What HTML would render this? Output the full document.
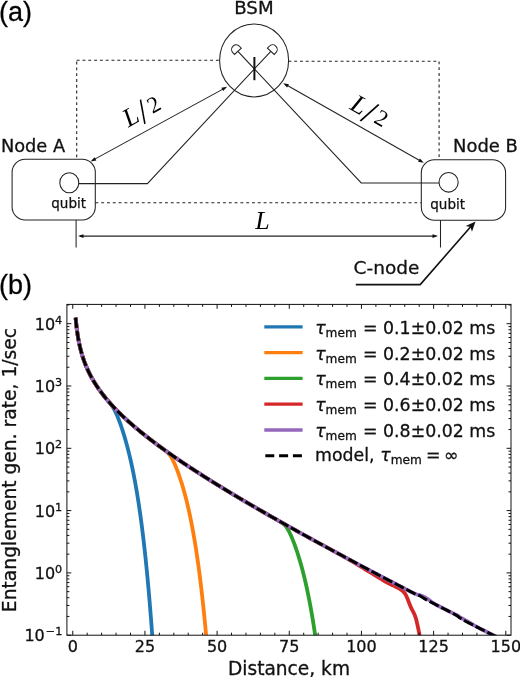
<!DOCTYPE html>
<html><head><meta charset="utf-8"><style>
html,body{margin:0;padding:0;background:#fff;width:520px;height:677px;overflow:hidden}
svg{display:block}
</style></head><body>
<svg width="520" height="677" viewBox="0 0 520 677">
<rect width="520" height="677" fill="#fff"/>
<text x="-1.0" y="21.3" font-family="Liberation Sans, sans-serif" font-size="27" stroke="#111" stroke-width="0.3">(a)</text>
<text x="-1.0" y="293.9" font-family="Liberation Sans, sans-serif" font-size="27" stroke="#111" stroke-width="0.3">(b)</text>
<g font-family="DejaVu Sans, sans-serif" font-size="17.6" fill="#111" stroke="#111" stroke-width="0.3"><text x="253.9" y="13.7" text-anchor="middle" font-size="18.2">BSM</text><text x="0.9" y="152.0" font-size="17.8">Node A</text><text x="453.0" y="151.5" font-size="17.95">Node B</text></g>
<g font-family="DejaVu Sans, sans-serif" font-size="13.5" fill="#111" stroke="#111" stroke-width="0.25"><text x="51.3" y="208.2">qubit</text><text x="430.3" y="209.2">qubit</text></g>
<text x="353.6" y="274.3" font-family="DejaVu Sans, sans-serif" font-size="18.5" fill="#111" stroke="#111" stroke-width="0.3">C-node</text>
<g fill="none" stroke="#222" stroke-width="1.1" stroke-dasharray="2.9 2.9"><path d="M76.7,60.3H219.8"/><path d="M76.7,61.6V159.2"/><path d="M288.4,61.3H439.1V159.4"/><path d="M95.4,202.8H421.3"/></g>
<g fill="none" stroke="#222" stroke-width="1.05"><rect x="12.1" y="159.3" width="83.2" height="60.7" rx="13" ry="13"/><rect x="421.3" y="159.7" width="84.3" height="60.6" rx="13" ry="13"/><ellipse cx="69.3" cy="182.8" rx="9.5" ry="10"/><ellipse cx="448.6" cy="182.3" rx="9.6" ry="9.8"/><ellipse cx="254.1" cy="60.4" rx="34.5" ry="36.5"/><path d="M78.8,183.6H147.40L270.82,51.30"/><path d="M439.0,182.9H361.20L237.91,51.30"/><path d="M76.1,220V247.4M440.5,220.3V247.4"/><path d="M80,236.1H435.5"/><path d="M92.5,160.4L225.2,87.9"/><path d="M285.2,84.3L421.9,161.7"/></g>
<path d="M254.4,57V80.2" stroke="#111" stroke-width="2"/>
<path d="M355.8,284.6H420.2L472,225.2" fill="none" stroke="#111" stroke-width="1.6"/>
<g stroke="#222" stroke-width="1.05"><path d="M267.45,48.16L269.23,46.26A4.60,4.60 0 0 1 275.96,52.54L274.18,54.44Z" fill="#fff"/><path d="M234.55,54.44L232.78,52.55A4.60,4.60 0 0 1 239.49,46.26L241.27,48.16Z" fill="#fff"/></g>
<g fill="#111"><path d="M78.00,236.10L83.50,234.20L83.50,236.10L83.50,238.00Z"/><path d="M438.00,236.10L432.50,238.00L432.50,236.10L432.50,234.20Z"/><path d="M90.60,161.50L94.51,157.19L95.42,158.86L96.34,160.53Z"/><path d="M227.10,86.80L223.19,91.11L222.28,89.44L221.36,87.77Z"/><path d="M283.20,83.20L288.92,84.26L287.99,85.91L287.05,87.56Z"/><path d="M423.80,162.80L418.08,161.74L419.01,160.09L419.95,158.44Z"/><path d="M475.50,221.40L471.96,231.65L470.50,226.99L465.70,226.05Z"/></g>
<g transform="translate(128.20,127.60) rotate(-29.30)" font-family="Liberation Serif, serif" font-size="26"><text x="0.3" y="0" font-style="italic">L</text><text x="15.6" y="4.6" font-size="35">/</text><text x="27.8" y="0" font-size="23">2</text></g>
<g transform="translate(348.40,108.50) rotate(29.30)" font-family="Liberation Serif, serif" font-size="26"><text x="0.3" y="0" font-style="italic">L</text><text x="15.6" y="4.6" font-size="35">/</text><text x="27.8" y="0" font-size="23">2</text></g>
<text x="255.2" y="228.6" font-family="Liberation Serif, serif" font-size="26" font-style="italic">L</text>
<defs><clipPath id="ax"><rect x="66.90" y="304.40" width="444.10" height="330.80"/></clipPath></defs>
<g clip-path="url(#ax)" fill="none" stroke-width="3.8" stroke-linejoin="round">
<path d="M75.63,317.73L75.75,319.13L75.88,320.51L76.01,321.88L76.14,323.24L76.29,324.58L76.44,325.92L76.59,327.24L76.75,328.56L76.92,329.86L77.09,331.17L77.28,332.46L77.47,333.75L77.66,335.03L77.87,336.31L78.08,337.59L78.31,338.86L78.54,340.13L78.78,341.40L79.04,342.67L79.30,343.93L79.58,345.19L79.86,346.46L80.16,347.72L80.47,348.99L80.80,350.25L81.13,351.52L81.49,352.79L81.85,354.06L82.23,355.33L82.63,356.61L83.05,357.89L83.48,359.18L83.93,360.47L84.40,361.77L84.89,363.07L85.40,364.38L85.93,365.70L86.48,367.02L87.06,368.35L87.66,369.69L88.28,371.04L88.93,372.40L89.61,373.77L90.32,375.15L91.06,376.54L91.82,377.94L92.62,379.36L93.46,380.78L94.33,382.23L95.23,383.68L96.18,385.16L97.16,386.64L98.18,388.15L99.25,389.67L100.36,391.22L101.52,392.78L102.73,394.36L103.98,395.97L105.29,397.60L105.47,397.83L105.65,398.05L105.83,398.27L106.01,398.49L106.19,398.71L106.37,398.93L106.55,399.14L106.73,399.36L106.92,399.58L107.10,399.80L107.28,400.02L107.46,400.23L107.64,400.45L107.82,400.67L108.00,400.88L108.18,401.10L108.36,401.32L108.54,401.53L108.72,401.75L108.90,401.97L109.08,402.19L109.26,402.41L109.44,402.63L109.62,402.85L109.80,403.07L109.98,403.29L110.16,403.52L110.34,403.74L110.52,403.97L110.70,404.20L110.88,404.43L111.06,404.67L111.24,404.90L111.42,405.15L111.60,405.39L111.78,405.64L111.96,405.89L112.14,406.14L112.32,406.40L112.50,406.67L112.68,406.94L112.86,407.21L113.04,407.49L113.22,407.78L113.40,408.07L113.58,408.37L113.76,408.67L113.94,408.98L114.12,409.30L114.30,409.62L114.48,409.95L114.66,410.29L114.84,410.63L115.02,410.99L115.20,411.34L115.38,411.71L115.56,412.08L115.74,412.46L115.92,412.84L116.10,413.23L116.28,413.63L116.46,414.03L116.64,414.44L116.82,414.86L117.00,415.28L117.18,415.70L117.36,416.13L117.54,416.57L117.72,417.01L117.90,417.46L118.08,417.91L118.26,418.36L118.44,418.82L118.62,419.29L118.80,419.76L118.98,420.23L119.16,420.71L119.34,421.19L119.52,421.67L119.70,422.16L119.88,422.66L120.06,423.16L120.24,423.66L120.42,424.17L120.60,424.68L120.78,425.19L120.96,425.71L121.14,426.23L121.32,426.76L121.50,427.29L121.68,427.82L121.87,428.36L122.05,428.90L122.23,429.45L122.41,430.00L122.59,430.56L122.77,431.11L122.95,431.68L123.13,432.24L123.31,432.82L123.49,433.39L123.67,433.97L123.85,434.56L124.03,435.15L124.21,435.74L124.39,436.34L124.57,436.94L124.75,437.55L124.93,438.16L125.11,438.77L125.29,439.39L125.47,440.02L125.65,440.65L125.83,441.29L126.01,441.93L126.19,442.57L126.37,443.22L126.55,443.88L126.73,444.54L126.91,445.20L127.09,445.87L127.27,446.55L127.45,447.23L127.63,447.92L127.81,448.61L127.99,449.31L128.17,450.01L128.35,450.72L128.53,451.44L128.71,452.16L128.89,452.89L129.07,453.62L129.25,454.36L129.43,455.11L129.61,455.86L129.79,456.62L129.97,457.38L130.15,458.15L130.33,458.93L130.51,459.71L130.69,460.50L130.87,461.30L131.05,462.11L131.23,462.92L131.41,463.74L131.59,464.56L131.77,465.39L131.95,466.23L132.13,467.08L132.31,467.93L132.49,468.79L132.67,469.66L132.85,470.54L133.03,471.42L133.21,472.32L133.39,473.22L133.57,474.13L133.75,475.04L133.93,475.97L134.11,476.90L134.29,477.84L134.47,478.79L134.65,479.75L134.83,480.72L135.01,481.69L135.19,482.68L135.37,483.67L135.55,484.67L135.73,485.68L135.91,486.71L136.09,487.74L136.27,488.78L136.45,489.83L136.63,490.88L136.82,491.95L137.00,493.03L137.18,494.12L137.36,495.22L137.54,496.33L137.72,497.45L137.90,498.58L138.08,499.72L138.26,500.87L138.44,502.04L138.62,503.21L138.80,504.39L138.98,505.59L139.16,506.80L139.34,508.02L139.52,509.25L139.70,510.49L139.88,511.74L140.06,513.01L140.24,514.29L140.42,515.58L140.60,516.88L140.78,518.20L140.96,519.53L141.14,520.87L141.32,522.22L141.50,523.59L141.68,524.97L141.86,526.36L142.04,527.77L142.22,529.19L142.40,530.63L142.58,532.08L142.76,533.54L142.94,535.02L143.12,536.51L143.30,538.02L143.48,539.54L143.66,541.08L143.84,542.63L144.02,544.20L144.20,545.78L144.38,547.38L144.56,549.00L144.74,550.63L144.92,552.28L145.10,553.94L145.28,555.62L145.46,557.32L145.64,559.03L145.82,560.77L146.00,562.52L146.18,564.28L146.36,566.07L146.54,567.87L146.72,569.69L146.90,571.53L147.08,573.39L147.26,575.26L147.44,577.16L147.62,579.07L147.80,581.01L147.98,582.96L148.16,584.93L148.34,586.93L148.52,588.94L148.70,590.97L148.88,593.03L149.06,595.11L149.24,597.20L149.42,599.32L149.60,601.46L149.78,603.63L149.96,605.81L150.14,608.02L150.32,610.25L150.50,612.50L150.68,614.78L150.86,617.08L151.04,619.40L151.22,621.75L151.40,624.12L151.58,626.51L151.77,628.93L151.95,631.38L152.13,633.85L152.31,636.35L152.49,638.87L152.67,641.42L152.85,643.99L153.03,646.60L153.21,649.23L153.39,651.88L153.57,654.57L153.75,657.28L153.93,660.02L154.11,662.79L154.29,665.59L154.47,668.41L154.65,671.27L154.83,674.16L155.01,677.08L155.19,680.02L155.37,683.00L155.55,686.01L155.73,689.05L155.91,692.13L156.09,695.23L156.27,698.37L156.45,701.54L156.63,704.75L156.81,707.99L156.99,711.26L157.17,714.57L157.35,717.91L157.53,721.29L157.71,724.70L157.89,728.15L158.07,731.63L158.25,735.16L158.43,738.72L158.61,742.31L158.79,745.95L158.97,749.62L159.15,753.34" stroke="#1f77b4"/>
<path d="M75.63,317.73L75.80,319.70L75.98,321.65L76.18,323.56L76.38,325.46L76.60,327.33L76.83,329.19L77.08,331.03L77.33,332.87L77.61,334.68L77.90,336.49L78.21,338.30L78.53,340.09L78.88,341.89L79.25,343.67L79.64,345.46L80.05,347.25L80.49,349.04L80.95,350.83L81.44,352.62L81.96,354.42L82.51,356.22L83.09,358.04L83.71,359.86L84.37,361.69L85.06,363.53L85.80,365.39L86.58,367.26L87.41,369.15L88.29,371.05L89.22,372.98L90.20,374.92L91.25,376.89L92.35,378.88L93.53,380.90L94.77,382.94L96.09,385.02L97.48,387.13L98.96,389.27L100.53,391.45L102.19,393.67L103.96,395.93L105.82,398.23L107.80,400.59L109.90,402.99L112.12,405.45L114.48,407.96L116.98,410.54L119.62,413.18L122.43,415.89L125.40,418.68L128.55,421.54L131.89,424.48L135.43,427.51L139.18,430.64L143.15,433.86L147.37,437.18L151.83,440.62L156.56,444.18L161.58,447.87L161.74,448.00L161.91,448.12L162.07,448.24L162.24,448.36L162.41,448.48L162.57,448.60L162.74,448.73L162.90,448.85L163.07,448.97L163.23,449.09L163.40,449.22L163.56,449.34L163.73,449.46L163.89,449.59L164.06,449.71L164.22,449.84L164.39,449.96L164.55,450.09L164.72,450.21L164.88,450.34L165.05,450.47L165.21,450.60L165.38,450.73L165.55,450.86L165.71,450.99L165.88,451.13L166.04,451.26L166.21,451.40L166.37,451.53L166.54,451.67L166.70,451.82L166.87,451.96L167.03,452.11L167.20,452.25L167.36,452.41L167.53,452.56L167.69,452.72L167.86,452.88L168.02,453.04L168.19,453.21L168.35,453.38L168.52,453.55L168.68,453.73L168.85,453.92L169.02,454.11L169.18,454.30L169.35,454.50L169.51,454.70L169.68,454.91L169.84,455.13L170.01,455.35L170.17,455.58L170.34,455.81L170.50,456.05L170.67,456.30L170.83,456.55L171.00,456.81L171.16,457.07L171.33,457.34L171.49,457.62L171.66,457.90L171.82,458.19L171.99,458.48L172.16,458.78L172.32,459.09L172.49,459.40L172.65,459.72L172.82,460.04L172.98,460.37L173.15,460.70L173.31,461.04L173.48,461.38L173.64,461.73L173.81,462.08L173.97,462.44L174.14,462.80L174.30,463.16L174.47,463.53L174.63,463.90L174.80,464.28L174.96,464.66L175.13,465.05L175.30,465.44L175.46,465.83L175.63,466.23L175.79,466.63L175.96,467.03L176.12,467.44L176.29,467.85L176.45,468.27L176.62,468.68L176.78,469.11L176.95,469.53L177.11,469.96L177.28,470.39L177.44,470.83L177.61,471.27L177.77,471.71L177.94,472.15L178.10,472.60L178.27,473.06L178.43,473.51L178.60,473.97L178.77,474.44L178.93,474.90L179.10,475.37L179.26,475.85L179.43,476.32L179.59,476.80L179.76,477.29L179.92,477.78L180.09,478.27L180.25,478.77L180.42,479.26L180.58,479.77L180.75,480.27L180.91,480.79L181.08,481.30L181.24,481.82L181.41,482.34L181.57,482.87L181.74,483.40L181.91,483.93L182.07,484.47L182.24,485.01L182.40,485.56L182.57,486.11L182.73,486.66L182.90,487.22L183.06,487.78L183.23,488.35L183.39,488.92L183.56,489.50L183.72,490.08L183.89,490.66L184.05,491.25L184.22,491.85L184.38,492.45L184.55,493.05L184.71,493.66L184.88,494.27L185.05,494.89L185.21,495.51L185.38,496.14L185.54,496.77L185.71,497.40L185.87,498.05L186.04,498.69L186.20,499.34L186.37,500.00L186.53,500.66L186.70,501.33L186.86,502.00L187.03,502.68L187.19,503.37L187.36,504.05L187.52,504.75L187.69,505.45L187.85,506.15L188.02,506.87L188.18,507.58L188.35,508.31L188.52,509.03L188.68,509.77L188.85,510.51L189.01,511.25L189.18,512.01L189.34,512.77L189.51,513.53L189.67,514.30L189.84,515.08L190.00,515.86L190.17,516.65L190.33,517.45L190.50,518.25L190.66,519.06L190.83,519.88L190.99,520.70L191.16,521.53L191.32,522.36L191.49,523.21L191.66,524.06L191.82,524.92L191.99,525.78L192.15,526.65L192.32,527.53L192.48,528.42L192.65,529.31L192.81,530.21L192.98,531.12L193.14,532.04L193.31,532.96L193.47,533.89L193.64,534.83L193.80,535.78L193.97,536.73L194.13,537.70L194.30,538.67L194.46,539.65L194.63,540.64L194.80,541.63L194.96,542.64L195.13,543.65L195.29,544.67L195.46,545.71L195.62,546.75L195.79,547.79L195.95,548.85L196.12,549.92L196.28,550.99L196.45,552.08L196.61,553.17L196.78,554.28L196.94,555.39L197.11,556.51L197.27,557.64L197.44,558.79L197.60,559.94L197.77,561.10L197.93,562.27L198.10,563.45L198.27,564.65L198.43,565.85L198.60,567.06L198.76,568.29L198.93,569.52L199.09,570.77L199.26,572.02L199.42,573.29L199.59,574.57L199.75,575.85L199.92,577.16L200.08,578.47L200.25,579.79L200.41,581.13L200.58,582.47L200.74,583.83L200.91,585.20L201.07,586.58L201.24,587.98L201.41,589.38L201.57,590.80L201.74,592.23L201.90,593.68L202.07,595.14L202.23,596.61L202.40,598.09L202.56,599.59L202.73,601.10L202.89,602.62L203.06,604.15L203.22,605.70L203.39,607.27L203.55,608.85L203.72,610.44L203.88,612.04L204.05,613.66L204.21,615.30L204.38,616.95L204.55,618.61L204.71,620.29L204.88,621.98L205.04,623.69L205.21,625.42L205.37,627.16L205.54,628.91L205.70,630.68L205.87,632.47L206.03,634.27L206.20,636.09L206.36,637.93L206.53,639.78L206.69,641.65L206.86,643.54L207.02,645.44L207.19,647.36L207.35,649.29L207.52,651.25L207.68,653.22L207.85,655.21L208.02,657.22L208.18,659.25L208.35,661.29L208.51,663.35L208.68,665.44L208.84,667.54L209.01,669.66L209.17,671.80L209.34,673.95L209.50,676.13L209.67,678.33L209.83,680.55L210.00,682.79L210.16,685.04L210.33,687.32L210.49,689.62L210.66,691.94L210.82,694.29L210.99,696.65" stroke="#ff7f0e"/>
<path d="M75.63,317.73L75.85,320.18L76.08,322.58L76.33,324.95L76.60,327.29L76.88,329.59L77.19,331.88L77.53,334.15L77.88,336.40L78.27,338.64L78.68,340.87L79.13,343.10L79.61,345.32L80.12,347.55L80.67,349.77L81.27,352.00L81.90,354.23L82.59,356.48L83.33,358.74L84.12,361.01L84.97,363.30L85.89,365.60L86.87,367.94L87.93,370.29L89.07,372.68L90.29,375.10L91.61,377.55L93.02,380.04L94.54,382.57L96.17,385.15L97.93,387.78L99.82,390.46L101.84,393.21L104.02,396.01L106.37,398.89L108.89,401.84L111.60,404.87L114.51,407.99L117.64,411.21L121.00,414.53L124.62,417.95L128.51,421.50L132.68,425.17L137.18,428.98L142.00,432.93L147.19,437.05L152.77,441.34L158.77,445.81L165.22,450.48L172.15,455.36L179.60,460.48L187.61,465.83L196.22,471.46L205.47,477.37L215.42,483.59L226.11,490.13L237.60,497.03L249.96,504.31L263.24,512.01L277.52,520.16L277.67,520.24L277.82,520.33L277.98,520.42L278.13,520.51L278.28,520.60L278.44,520.69L278.59,520.78L278.74,520.87L278.90,520.95L279.05,521.04L279.20,521.13L279.36,521.22L279.51,521.32L279.66,521.41L279.82,521.50L279.97,521.59L280.12,521.68L280.27,521.78L280.43,521.87L280.58,521.96L280.73,522.06L280.89,522.15L281.04,522.25L281.19,522.35L281.35,522.45L281.50,522.54L281.65,522.65L281.81,522.75L281.96,522.85L282.11,522.95L282.27,523.06L282.42,523.17L282.57,523.28L282.73,523.39L282.88,523.50L283.03,523.62L283.18,523.74L283.34,523.86L283.49,523.98L283.64,524.11L283.80,524.23L283.95,524.37L284.10,524.50L284.26,524.64L284.41,524.78L284.56,524.93L284.72,525.08L284.87,525.24L285.02,525.40L285.18,525.56L285.33,525.73L285.48,525.91L285.63,526.09L285.79,526.27L285.94,526.46L286.09,526.65L286.25,526.86L286.40,527.06L286.55,527.27L286.71,527.49L286.86,527.71L287.01,527.94L287.17,528.18L287.32,528.42L287.47,528.66L287.63,528.91L287.78,529.17L287.93,529.43L288.09,529.70L288.24,529.97L288.39,530.25L288.54,530.53L288.70,530.81L288.85,531.10L289.00,531.40L289.16,531.70L289.31,532.00L289.46,532.31L289.62,532.62L289.77,532.94L289.92,533.26L290.08,533.59L290.23,533.91L290.38,534.25L290.54,534.58L290.69,534.92L290.84,535.26L291.00,535.61L291.15,535.95L291.30,536.31L291.45,536.66L291.61,537.02L291.76,537.38L291.91,537.74L292.07,538.11L292.22,538.48L292.37,538.85L292.53,539.23L292.68,539.61L292.83,539.99L292.99,540.37L293.14,540.76L293.29,541.15L293.45,541.54L293.60,541.94L293.75,542.34L293.91,542.74L294.06,543.14L294.21,543.55L294.36,543.96L294.52,544.37L294.67,544.78L294.82,545.20L294.98,545.62L295.13,546.05L295.28,546.47L295.44,546.90L295.59,547.33L295.74,547.77L295.90,548.20L296.05,548.64L296.20,549.09L296.36,549.53L296.51,549.98L296.66,550.43L296.81,550.89L296.97,551.35L297.12,551.81L297.27,552.27L297.43,552.74L297.58,553.21L297.73,553.68L297.89,554.16L298.04,554.64L298.19,555.12L298.35,555.61L298.50,556.09L298.65,556.59L298.81,557.08L298.96,557.58L299.11,558.08L299.27,558.59L299.42,559.09L299.57,559.61L299.72,560.12L299.88,560.64L300.03,561.16L300.18,561.69L300.34,562.22L300.49,562.75L300.64,563.28L300.80,563.82L300.95,564.37L301.10,564.91L301.26,565.46L301.41,566.02L301.56,566.58L301.72,567.14L301.87,567.70L302.02,568.27L302.18,568.84L302.33,569.42L302.48,570.00L302.63,570.58L302.79,571.17L302.94,571.77L303.09,572.36L303.25,572.96L303.40,573.57L303.55,574.18L303.71,574.79L303.86,575.40L304.01,576.03L304.17,576.65L304.32,577.28L304.47,577.91L304.63,578.55L304.78,579.19L304.93,579.84L305.09,580.49L305.24,581.15L305.39,581.81L305.54,582.47L305.70,583.14L305.85,583.82L306.00,584.50L306.16,585.18L306.31,585.87L306.46,586.56L306.62,587.26L306.77,587.96L306.92,588.67L307.08,589.38L307.23,590.10L307.38,590.82L307.54,591.55L307.69,592.28L307.84,593.02L307.99,593.76L308.15,594.51L308.30,595.26L308.45,596.02L308.61,596.78L308.76,597.55L308.91,598.33L309.07,599.11L309.22,599.89L309.37,600.68L309.53,601.48L309.68,602.28L309.83,603.09L309.99,603.90L310.14,604.72L310.29,605.55L310.45,606.38L310.60,607.21L310.75,608.06L310.90,608.90L311.06,609.76L311.21,610.62L311.36,611.49L311.52,612.36L311.67,613.24L311.82,614.13L311.98,615.02L312.13,615.92L312.28,616.82L312.44,617.73L312.59,618.65L312.74,619.57L312.90,620.50L313.05,621.44L313.20,622.39L313.36,623.34L313.51,624.29L313.66,625.26L313.81,626.23L313.97,627.21L314.12,628.20L314.27,629.19L314.43,630.19L314.58,631.20L314.73,632.21L314.89,633.23L315.04,634.26L315.19,635.30L315.35,636.34L315.50,637.40L315.65,638.46L315.81,639.52L315.96,640.60L316.11,641.68L316.27,642.77L316.42,643.87L316.57,644.98L316.72,646.09L316.88,647.22L317.03,648.35L317.18,649.49L317.34,650.63L317.49,651.79L317.64,652.96L317.80,654.13L317.95,655.31L318.10,656.50L318.26,657.70L318.41,658.91L318.56,660.13L318.72,661.35L318.87,662.59L319.02,663.83L319.17,665.08L319.33,666.35L319.48,667.62L319.63,668.90L319.79,670.19L319.94,671.49L320.09,672.80L320.25,674.12L320.40,675.45L320.55,676.79L320.71,678.13L320.86,679.49L321.01,680.86L321.17,682.24L321.32,683.63L321.47,685.03L321.63,686.44L321.78,687.86L321.93,689.29L322.08,690.73L322.24,692.19L322.39,693.65L322.54,695.12L322.70,696.61L322.85,698.10L323.00,699.61L323.16,701.13L323.31,702.66" stroke="#2ca02c"/>
<path d="M75.63,317.73L75.70,318.59L75.78,319.44L75.86,320.29L75.94,321.13L76.02,321.97L76.10,322.80L76.18,323.62L76.27,324.45L76.36,325.27L76.45,326.08L76.55,326.89L76.65,327.70L76.75,328.51L76.85,329.31L76.95,330.11L77.06,330.91L77.17,331.70L77.28,332.49L77.40,333.28L77.51,334.07L77.64,334.86L77.76,335.64L77.89,336.43L78.02,337.21L78.15,337.99L78.29,338.77L78.43,339.55L78.58,340.32L78.73,341.10L78.88,341.88L79.04,342.65L79.20,343.43L79.36,344.20L79.53,344.97L79.70,345.75L79.88,346.52L80.06,347.30L80.25,348.07L80.44,348.84L80.63,349.62L80.83,350.40L81.04,351.17L81.25,351.95L81.47,352.73L81.69,353.50L81.92,354.28L82.15,355.07L82.39,355.85L82.64,356.63L82.89,357.42L83.15,358.20L83.41,358.99L83.69,359.78L83.96,360.57L84.25,361.37L84.54,362.16L84.84,362.96L85.15,363.76L85.47,364.57L85.79,365.37L86.13,366.18L86.47,366.99L86.82,367.81L87.17,368.62L87.54,369.44L87.92,370.27L88.31,371.10L88.70,371.93L89.11,372.76L89.53,373.60L89.95,374.44L90.39,375.29L90.84,376.14L91.30,377.00L91.78,377.86L92.26,378.72L92.76,379.59L93.27,380.47L93.79,381.35L94.33,382.23L94.88,383.12L95.44,384.02L96.02,384.92L96.62,385.83L97.22,386.74L97.85,387.66L98.49,388.59L99.14,389.53L99.82,390.47L100.51,391.42L101.21,392.37L101.94,393.33L102.68,394.31L103.45,395.28L104.23,396.27L105.03,397.27L105.86,398.27L106.70,399.29L107.56,400.31L108.45,401.34L109.36,402.38L110.30,403.44L111.25,404.50L112.23,405.57L113.24,406.65L114.27,407.75L115.33,408.85L116.42,409.97L117.53,411.10L118.67,412.24L119.84,413.40L121.04,414.57L122.27,415.75L123.54,416.94L124.83,418.15L126.16,419.37L127.52,420.61L128.92,421.87L130.35,423.13L130.93,423.64L132.33,424.86L133.73,426.07L135.14,427.26L136.54,428.45L137.94,429.61L139.35,430.77L140.75,431.92L142.15,433.05L143.55,434.18L144.96,435.29L146.36,436.40L147.76,437.49L149.17,438.58L150.57,439.66L151.97,440.73L153.38,441.79L154.78,442.85L156.18,443.90L157.59,444.94L158.99,445.97L160.39,447.00L161.80,448.02L163.20,449.03L164.60,450.04L166.01,451.04L167.41,452.04L168.81,453.03L170.22,454.01L171.62,454.99L173.02,455.97L174.42,456.94L175.83,457.90L177.23,458.86L178.63,459.82L180.04,460.77L181.44,461.72L182.84,462.66L184.25,463.60L185.65,464.54L187.05,465.47L188.46,466.39L189.86,467.32L191.26,468.24L192.67,469.16L194.07,470.07L195.47,470.98L196.88,471.88L198.28,472.79L199.68,473.69L201.09,474.58L202.49,475.48L203.89,476.37L205.29,477.26L206.70,478.14L208.10,479.03L209.50,479.91L210.91,480.78L212.31,481.66L213.71,482.53L215.12,483.40L216.52,484.27L217.92,485.13L219.33,485.99L220.73,486.85L222.13,487.71L223.54,488.57L224.94,489.42L226.34,490.27L227.75,491.12L229.15,491.97L230.55,492.81L231.96,493.66L233.36,494.50L234.76,495.34L236.16,496.18L237.57,497.01L238.97,497.84L240.37,498.68L241.78,499.51L243.18,500.34L244.58,501.16L245.99,501.99L247.39,502.81L248.79,503.63L250.20,504.45L251.60,505.27L253.00,506.09L254.41,506.90L255.81,507.72L257.21,508.53L258.62,509.34L260.02,510.15L261.42,510.96L262.83,511.77L264.23,512.57L265.63,513.38L267.03,514.18L268.44,514.98L269.84,515.78L271.24,516.58L272.65,517.38L274.05,518.18L275.45,518.97L276.86,519.77L278.26,520.56L279.66,521.35L281.07,522.14L282.47,522.93L283.87,523.72L285.28,524.51L286.68,525.29L288.08,526.08L289.49,526.86L290.89,527.65L292.29,528.43L293.70,529.21L295.10,529.99L296.50,530.77L297.90,531.55L299.31,532.32L300.71,533.10L302.11,533.87L303.52,534.65L304.92,535.42L306.32,536.19L307.73,536.97L309.13,537.74L310.53,538.51L311.94,539.27L313.34,540.04L314.74,540.81L316.15,541.58L317.55,542.34L318.95,543.11L320.36,543.87L321.76,544.63L323.16,545.40L324.57,546.16L325.97,546.92L327.37,547.68L328.77,548.44L330.18,549.19L331.58,549.95L332.98,550.71L334.39,551.47L335.79,552.22L337.19,552.98L337.43,553.10L337.66,553.23L337.90,553.35L338.13,553.48L338.36,553.60L338.60,553.73L338.73,553.80L338.75,553.80L338.76,553.79L338.90,553.86L339.27,554.07L340.00,554.48L341.17,555.15L342.70,556.02L344.46,557.03L346.35,558.12L348.23,559.21L350.00,560.23L351.67,561.21L353.33,562.19L355.00,563.17L356.67,564.16L358.33,565.15L360.00,566.15L361.69,567.17L363.41,568.21L365.12,569.26L366.81,570.29L368.45,571.29L370.00,572.23L371.47,573.12L372.87,573.96L374.21,574.76L375.51,575.54L376.77,576.29L378.00,577.04L379.19,577.79L380.33,578.52L381.43,579.23L382.50,579.92L383.56,580.58L384.60,581.20L385.63,581.77L386.63,582.29L387.61,582.78L388.57,583.26L389.54,583.72L390.50,584.20L391.48,584.69L392.49,585.18L393.48,585.66L394.45,586.13L395.36,586.58L396.20,587.00L396.95,587.38L397.64,587.71L398.27,588.03L398.86,588.34L399.43,588.66L400.00,589.00L400.56,589.36L401.09,589.73L401.60,590.11L402.09,590.50L402.56,590.90L403.00,591.30L403.42,591.70L403.80,592.09L404.16,592.49L404.51,592.91L404.85,593.38L405.20,593.90L405.54,594.48L405.88,595.12L406.21,595.79L406.54,596.50L406.87,597.24L407.20,598.00L407.53,598.79L407.86,599.63L408.19,600.49L408.53,601.36L408.86,602.24L409.20,603.10L409.54,603.96L409.89,604.83L410.23,605.69L410.58,606.55L410.94,607.39L411.30,608.20L411.67,608.96L412.05,609.67L412.44,610.36L412.83,611.06L413.21,611.79L413.60,612.60L413.99,613.46L414.38,614.34L414.77,615.27L415.16,616.24L415.54,617.28L415.90,618.40L416.24,619.62L416.57,620.93L416.89,622.31L417.20,623.72L417.51,625.13L417.80,626.50L418.09,627.84L418.38,629.19L418.66,630.54L418.93,631.87L419.18,633.20L419.40,634.50L419.59,635.78L419.75,637.04L419.89,638.28L420.03,639.52L420.16,640.76L420.30,642.00" stroke="#d62728"/>
<path d="M75.63,317.73L75.69,318.42L75.75,319.10L75.81,319.78L75.87,320.45L75.93,321.12L76.00,321.79L76.07,322.46L76.13,323.12L76.20,323.78L76.27,324.44L76.34,325.09L76.42,325.74L76.49,326.39L76.57,327.04L76.64,327.69L76.72,328.33L76.80,328.97L76.89,329.61L76.97,330.25L77.06,330.89L77.14,331.52L77.23,332.15L77.32,332.79L77.42,333.42L77.51,334.05L77.61,334.67L77.71,335.30L77.81,335.93L77.91,336.55L78.01,337.18L78.12,337.80L78.23,338.42L78.34,339.05L78.46,339.67L78.57,340.29L78.69,340.91L78.81,341.53L78.93,342.15L79.06,342.77L79.19,343.38L79.32,344.00L79.45,344.62L79.59,345.24L79.73,345.86L79.87,346.48L80.01,347.09L80.16,347.71L80.31,348.33L80.46,348.95L80.62,349.57L80.78,350.19L80.94,350.81L81.11,351.43L81.28,352.05L81.45,352.67L81.63,353.29L81.81,353.91L81.99,354.54L82.18,355.16L82.37,355.78L82.57,356.41L82.77,357.04L82.97,357.66L83.18,358.29L83.39,358.92L83.61,359.55L83.83,360.18L84.05,360.82L84.28,361.45L84.52,362.09L84.75,362.73L85.00,363.36L85.25,364.00L85.50,364.65L85.76,365.29L86.02,365.94L86.29,366.58L86.57,367.23L86.85,367.88L87.14,368.54L87.43,369.19L87.73,369.85L88.03,370.51L88.34,371.17L88.66,371.83L88.98,372.50L89.31,373.17L89.65,373.84L89.99,374.51L90.34,375.19L90.70,375.87L91.06,376.55L91.43,377.23L91.81,377.92L92.20,378.61L92.59,379.30L93.00,380.00L93.41,380.70L93.83,381.40L94.26,382.11L94.69,382.82L95.14,383.54L95.59,384.25L96.06,384.97L96.53,385.70L97.01,386.43L97.51,387.16L98.01,387.90L98.52,388.64L99.05,389.39L99.58,390.14L100.12,390.89L100.68,391.65L101.25,392.42L101.83,393.19L102.42,393.96L103.02,394.74L103.63,395.52L104.26,396.31L104.90,397.11L105.55,397.91L106.22,398.71L106.90,399.53L107.59,400.34L108.30,401.17L109.02,402.00L109.76,402.83L110.51,403.68L111.28,404.53L112.06,405.38L112.86,406.25L113.67,407.12L114.51,407.99L115.35,408.88L116.22,409.77L117.10,410.67L118.00,411.58L118.92,412.49L119.86,413.41L120.82,414.35L121.79,415.29L122.79,416.23L123.80,417.19L124.84,418.16L125.90,419.13L126.98,420.12L128.08,421.11L129.20,422.12L130.35,423.13L130.93,423.64L132.20,424.75L133.47,425.85L134.75,426.94L136.02,428.01L137.30,429.08L138.57,430.14L139.85,431.18L141.12,432.22L142.39,433.25L143.67,434.27L144.94,435.28L146.22,436.29L147.49,437.28L148.77,438.27L150.04,439.25L151.32,440.23L152.59,441.20L153.86,442.16L155.14,443.12L156.41,444.07L157.69,445.01L158.96,445.95L160.24,446.88L161.51,447.81L162.78,448.73L164.06,449.65L165.33,450.56L166.61,451.47L167.88,452.37L169.16,453.27L170.43,454.16L171.70,455.05L172.98,455.94L174.25,456.82L175.53,457.70L176.80,458.57L178.08,459.44L179.35,460.31L180.62,461.17L181.90,462.03L183.17,462.88L184.45,463.74L185.72,464.58L187.00,465.43L188.27,466.27L189.55,467.11L190.82,467.95L192.09,468.78L193.37,469.61L194.64,470.44L195.92,471.27L197.19,472.09L198.47,472.91L199.74,473.72L201.01,474.54L202.29,475.35L203.56,476.16L204.84,476.97L206.11,477.77L207.39,478.58L208.66,479.38L209.93,480.17L211.21,480.97L212.48,481.76L213.76,482.56L215.03,483.35L216.31,484.13L217.58,484.92L218.85,485.70L220.13,486.49L221.40,487.27L222.68,488.04L223.95,488.82L225.23,489.60L226.50,490.37L227.77,491.14L229.05,491.91L230.32,492.68L231.60,493.44L232.87,494.21L234.15,494.97L235.42,495.73L236.70,496.49L237.97,497.25L239.24,498.01L240.52,498.76L241.79,499.52L243.07,500.27L244.34,501.02L245.62,501.77L246.89,502.52L248.16,503.26L249.44,504.01L250.71,504.75L251.99,505.50L253.26,506.24L254.54,506.98L255.81,507.72L257.08,508.46L258.36,509.19L259.63,509.93L260.91,510.66L262.18,511.40L263.46,512.13L264.73,512.86L266.00,513.59L267.28,514.32L268.55,515.05L269.83,515.78L271.10,516.50L272.38,517.23L273.65,517.95L274.93,518.67L276.20,519.39L277.47,520.11L278.75,520.83L280.02,521.55L281.30,522.27L282.57,522.99L283.85,523.70L285.12,524.42L286.39,525.13L287.67,525.85L288.94,526.56L290.22,527.27L291.49,527.98L292.77,528.69L294.04,529.40L295.31,530.11L296.59,530.82L297.86,531.52L299.14,532.23L300.41,532.93L301.69,533.64L302.96,534.34L304.23,535.04L305.51,535.75L306.78,536.45L308.06,537.15L309.33,537.85L310.61,538.55L311.88,539.24L313.15,539.94L314.43,540.64L315.70,541.33L316.98,542.03L318.25,542.72L319.53,543.42L320.80,544.11L322.08,544.80L323.35,545.50L324.62,546.19L325.90,546.88L327.17,547.57L328.45,548.26L329.72,548.95L331.00,549.64L332.27,550.32L333.54,551.01L334.82,551.70L336.09,552.38L337.37,553.07L338.64,553.75L339.92,554.44L341.19,555.12L342.46,555.80L343.74,556.49L345.01,557.17L346.29,557.85L347.56,558.53L348.84,559.21L350.11,559.89L351.38,560.57L352.66,561.25L353.93,561.93L355.21,562.60L356.48,563.28L357.76,563.96L359.03,564.63L360.30,565.31L361.58,565.99L362.85,566.66L364.13,567.33L365.40,568.01L366.68,568.68L367.95,569.35L369.23,570.03L370.50,570.70L371.77,571.37L373.05,572.04L374.32,572.71L375.60,573.38L376.87,574.05L378.15,574.72L379.42,575.39L380.69,576.06L381.97,576.72L383.24,577.39L384.52,578.06L385.79,578.73L387.07,579.39L388.34,580.06L389.61,580.72L390.89,581.39L392.16,582.05L393.44,582.72L394.71,583.38L395.99,584.04L397.26,584.71L398.53,585.37L399.81,586.03L401.08,586.69L402.36,587.36L403.63,588.02L404.91,588.68L406.18,589.34L407.46,590.00L408.73,590.66L410.00,591.32L411.28,591.97L412.55,592.62L413.83,593.24L415.10,593.81L416.38,594.28L417.65,594.64L418.92,594.95L420.20,595.31L421.47,595.76L422.75,596.30L424.02,596.89L425.30,597.54L426.57,598.29L427.84,599.14L429.12,600.07L430.39,601.03L431.67,601.95L432.94,602.82L434.22,603.61L435.49,604.35L436.76,605.05L438.04,605.72L439.31,606.38L440.59,607.04L441.86,607.69L443.14,608.34L444.41,608.99L445.68,609.64L446.96,610.29L448.23,610.93L449.51,611.58L450.78,612.22L452.06,612.85L453.33,613.48L454.61,614.10L455.88,614.75L457.15,615.46L458.43,616.24L459.70,617.05L460.98,617.81L462.25,618.50L463.53,619.16L464.80,619.83L466.07,620.54L467.35,621.30L468.62,622.08L469.90,622.88L471.17,623.67L472.45,624.44L473.72,625.19L474.99,625.90L476.27,626.60L477.54,627.27L478.82,627.93L480.09,628.58L481.37,629.23L482.64,629.88L483.91,630.52L485.19,631.16L486.46,631.80L487.74,632.45L489.01,633.09L490.29,633.73L491.56,634.37L492.84,635.01L494.11,635.65L495.38,636.29L496.66,636.93L497.93,637.57L499.21,638.21L500.48,638.85L501.76,639.49L503.03,640.13L504.30,640.76L505.58,641.40L506.85,642.04L508.13,642.68L509.40,643.32L510.68,643.95L511.95,644.59" stroke="#9467bd"/>
<path d="M75.63,317.73L75.69,318.42L75.75,319.10L75.81,319.78L75.87,320.45L75.93,321.12L76.00,321.79L76.07,322.46L76.13,323.12L76.20,323.78L76.27,324.44L76.34,325.09L76.42,325.74L76.49,326.39L76.57,327.04L76.64,327.69L76.72,328.33L76.80,328.97L76.89,329.61L76.97,330.25L77.06,330.89L77.14,331.52L77.23,332.15L77.32,332.79L77.42,333.42L77.51,334.05L77.61,334.67L77.71,335.30L77.81,335.93L77.91,336.55L78.01,337.18L78.12,337.80L78.23,338.42L78.34,339.05L78.46,339.67L78.57,340.29L78.69,340.91L78.81,341.53L78.93,342.15L79.06,342.77L79.19,343.38L79.32,344.00L79.45,344.62L79.59,345.24L79.73,345.86L79.87,346.48L80.01,347.09L80.16,347.71L80.31,348.33L80.46,348.95L80.62,349.57L80.78,350.19L80.94,350.81L81.11,351.43L81.28,352.05L81.45,352.67L81.63,353.29L81.81,353.91L81.99,354.54L82.18,355.16L82.37,355.78L82.57,356.41L82.77,357.04L82.97,357.66L83.18,358.29L83.39,358.92L83.61,359.55L83.83,360.18L84.05,360.82L84.28,361.45L84.52,362.09L84.75,362.73L85.00,363.36L85.25,364.00L85.50,364.65L85.76,365.29L86.02,365.94L86.29,366.58L86.57,367.23L86.85,367.88L87.14,368.54L87.43,369.19L87.73,369.85L88.03,370.51L88.34,371.17L88.66,371.83L88.98,372.50L89.31,373.17L89.65,373.84L89.99,374.51L90.34,375.19L90.70,375.87L91.06,376.55L91.43,377.23L91.81,377.92L92.20,378.61L92.59,379.30L93.00,380.00L93.41,380.70L93.83,381.40L94.26,382.11L94.69,382.82L95.14,383.54L95.59,384.25L96.06,384.97L96.53,385.70L97.01,386.43L97.51,387.16L98.01,387.90L98.52,388.64L99.05,389.39L99.58,390.14L100.12,390.89L100.68,391.65L101.25,392.42L101.83,393.19L102.42,393.96L103.02,394.74L103.63,395.52L104.26,396.31L104.90,397.11L105.55,397.91L106.22,398.71L106.90,399.53L107.59,400.34L108.30,401.17L109.02,402.00L109.76,402.83L110.51,403.68L111.28,404.53L112.06,405.38L112.86,406.25L113.67,407.12L114.51,407.99L115.35,408.88L116.22,409.77L117.10,410.67L118.00,411.58L118.92,412.49L119.86,413.41L120.82,414.35L121.79,415.29L122.79,416.23L123.80,417.19L124.84,418.16L125.90,419.13L126.98,420.12L128.08,421.11L129.20,422.12L130.35,423.13L130.93,423.64L132.20,424.75L133.47,425.85L134.75,426.94L136.02,428.01L137.30,429.08L138.57,430.14L139.85,431.18L141.12,432.22L142.39,433.25L143.67,434.27L144.94,435.28L146.22,436.29L147.49,437.28L148.77,438.27L150.04,439.25L151.32,440.23L152.59,441.20L153.86,442.16L155.14,443.12L156.41,444.07L157.69,445.01L158.96,445.95L160.24,446.88L161.51,447.81L162.78,448.73L164.06,449.65L165.33,450.56L166.61,451.47L167.88,452.37L169.16,453.27L170.43,454.16L171.70,455.05L172.98,455.94L174.25,456.82L175.53,457.70L176.80,458.57L178.08,459.44L179.35,460.31L180.62,461.17L181.90,462.03L183.17,462.88L184.45,463.74L185.72,464.58L187.00,465.43L188.27,466.27L189.55,467.11L190.82,467.95L192.09,468.78L193.37,469.61L194.64,470.44L195.92,471.27L197.19,472.09L198.47,472.91L199.74,473.72L201.01,474.54L202.29,475.35L203.56,476.16L204.84,476.97L206.11,477.77L207.39,478.58L208.66,479.38L209.93,480.17L211.21,480.97L212.48,481.76L213.76,482.56L215.03,483.35L216.31,484.13L217.58,484.92L218.85,485.70L220.13,486.49L221.40,487.27L222.68,488.04L223.95,488.82L225.23,489.60L226.50,490.37L227.77,491.14L229.05,491.91L230.32,492.68L231.60,493.44L232.87,494.21L234.15,494.97L235.42,495.73L236.70,496.49L237.97,497.25L239.24,498.01L240.52,498.76L241.79,499.52L243.07,500.27L244.34,501.02L245.62,501.77L246.89,502.52L248.16,503.26L249.44,504.01L250.71,504.75L251.99,505.50L253.26,506.24L254.54,506.98L255.81,507.72L257.08,508.46L258.36,509.19L259.63,509.93L260.91,510.66L262.18,511.40L263.46,512.13L264.73,512.86L266.00,513.59L267.28,514.32L268.55,515.05L269.83,515.78L271.10,516.50L272.38,517.23L273.65,517.95L274.93,518.67L276.20,519.39L277.47,520.11L278.75,520.83L280.02,521.55L281.30,522.27L282.57,522.99L283.85,523.70L285.12,524.42L286.39,525.13L287.67,525.85L288.94,526.56L290.22,527.27L291.49,527.98L292.77,528.69L294.04,529.40L295.31,530.11L296.59,530.82L297.86,531.52L299.14,532.23L300.41,532.93L301.69,533.64L302.96,534.34L304.23,535.04L305.51,535.75L306.78,536.45L308.06,537.15L309.33,537.85L310.61,538.55L311.88,539.24L313.15,539.94L314.43,540.64L315.70,541.33L316.98,542.03L318.25,542.72L319.53,543.42L320.80,544.11L322.08,544.80L323.35,545.50L324.62,546.19L325.90,546.88L327.17,547.57L328.45,548.26L329.72,548.95L331.00,549.64L332.27,550.32L333.54,551.01L334.82,551.70L336.09,552.38L337.37,553.07L338.64,553.75L339.92,554.44L341.19,555.12L342.46,555.80L343.74,556.49L345.01,557.17L346.29,557.85L347.56,558.53L348.84,559.21L350.11,559.89L351.38,560.57L352.66,561.25L353.93,561.93L355.21,562.60L356.48,563.28L357.76,563.96L359.03,564.63L360.30,565.31L361.58,565.99L362.85,566.66L364.13,567.33L365.40,568.01L366.68,568.68L367.95,569.35L369.23,570.03L370.50,570.70L371.77,571.37L373.05,572.04L374.32,572.71L375.60,573.38L376.87,574.05L378.15,574.72L379.42,575.39L380.69,576.06L381.97,576.72L383.24,577.39L384.52,578.06L385.79,578.73L387.07,579.39L388.34,580.06L389.61,580.72L390.89,581.39L392.16,582.05L393.44,582.72L394.71,583.38L395.99,584.04L397.26,584.71L398.53,585.37L399.81,586.03L401.08,586.69L402.36,587.36L403.63,588.02L404.91,588.68L406.18,589.34L407.46,590.00L408.73,590.66L410.00,591.32L411.28,591.97L412.55,592.63L413.83,593.27L415.10,593.87L416.38,594.40L417.65,594.88L418.92,595.38L420.20,595.98L421.47,596.73L422.75,597.57L424.02,598.39L425.30,599.14L426.57,599.84L427.84,600.51L429.12,601.16L430.39,601.82L431.67,602.47L432.94,603.12L434.22,603.78L435.49,604.43L436.76,605.08L438.04,605.73L439.31,606.39L440.59,607.04L441.86,607.69L443.14,608.34L444.41,608.99L445.68,609.64L446.96,610.29L448.23,610.94L449.51,611.59L450.78,612.24L452.06,612.90L453.33,613.57L454.61,614.26L455.88,615.00L457.15,615.82L458.43,616.74L459.70,617.70L460.98,618.60L462.25,619.41L463.53,620.14L464.80,620.83L466.07,621.49L467.35,622.15L468.62,622.79L469.90,623.44L471.17,624.09L472.45,624.73L473.72,625.38L474.99,626.02L476.27,626.66L477.54,627.31L478.82,627.95L480.09,628.59L481.37,629.24L482.64,629.88L483.91,630.52L485.19,631.16L486.46,631.80L487.74,632.45L489.01,633.09L490.29,633.73L491.56,634.37L492.84,635.01L494.11,635.65L495.38,636.29L496.66,636.93L497.93,637.57L499.21,638.21L500.48,638.85L501.76,639.49L503.03,640.13L504.30,640.76L505.58,641.40L506.85,642.04L508.13,642.68L509.40,643.32L510.68,643.95L511.95,644.59" stroke="#000" stroke-width="3.0" stroke-dasharray="10.2 2.9"/>
</g>
<g fill="none" stroke="#111" stroke-width="1.0">
<rect x="66.90" y="304.40" width="444.10" height="330.80"/>
<path d="M72.75,635.20L72.75,630.80M72.75,304.40L72.75,308.80M87.19,635.20L87.19,632.70M87.19,304.40L87.19,306.90M101.62,635.20L101.62,632.70M101.62,304.40L101.62,306.90M116.06,635.20L116.06,632.70M116.06,304.40L116.06,306.90M130.49,635.20L130.49,632.70M130.49,304.40L130.49,306.90M144.93,635.20L144.93,630.80M144.93,304.40L144.93,308.80M159.36,635.20L159.36,632.70M159.36,304.40L159.36,306.90M173.80,635.20L173.80,632.70M173.80,304.40L173.80,306.90M188.23,635.20L188.23,632.70M188.23,304.40L188.23,306.90M202.66,635.20L202.66,632.70M202.66,304.40L202.66,306.90M217.10,635.20L217.10,630.80M217.10,304.40L217.10,308.80M231.53,635.20L231.53,632.70M231.53,304.40L231.53,306.90M245.97,635.20L245.97,632.70M245.97,304.40L245.97,306.90M260.40,635.20L260.40,632.70M260.40,304.40L260.40,306.90M274.84,635.20L274.84,632.70M274.84,304.40L274.84,306.90M289.27,635.20L289.27,630.80M289.27,304.40L289.27,308.80M303.71,635.20L303.71,632.70M303.71,304.40L303.71,306.90M318.14,635.20L318.14,632.70M318.14,304.40L318.14,306.90M332.58,635.20L332.58,632.70M332.58,304.40L332.58,306.90M347.01,635.20L347.01,632.70M347.01,304.40L347.01,306.90M361.45,635.20L361.45,630.80M361.45,304.40L361.45,308.80M375.88,635.20L375.88,632.70M375.88,304.40L375.88,306.90M390.32,635.20L390.32,632.70M390.32,304.40L390.32,306.90M404.75,635.20L404.75,632.70M404.75,304.40L404.75,306.90M419.19,635.20L419.19,632.70M419.19,304.40L419.19,306.90M433.62,635.20L433.62,630.80M433.62,304.40L433.62,308.80M448.06,635.20L448.06,632.70M448.06,304.40L448.06,306.90M462.50,635.20L462.50,632.70M462.50,304.40L462.50,306.90M476.93,635.20L476.93,632.70M476.93,304.40L476.93,306.90M491.37,635.20L491.37,632.70M491.37,304.40L491.37,306.90M505.80,635.20L505.80,630.80M505.80,304.40L505.80,308.80M66.90,635.20L71.30,635.20M511.00,635.20L506.60,635.20M66.90,616.45L69.40,616.45M511.00,616.45L508.50,616.45M66.90,605.48L69.40,605.48M511.00,605.48L508.50,605.48M66.90,597.69L69.40,597.69M511.00,597.69L508.50,597.69M66.90,591.65L69.40,591.65M511.00,591.65L508.50,591.65M66.90,586.72L69.40,586.72M511.00,586.72L508.50,586.72M66.90,582.55L69.40,582.55M511.00,582.55L508.50,582.55M66.90,578.94L69.40,578.94M511.00,578.94L508.50,578.94M66.90,575.75L69.40,575.75M511.00,575.75L508.50,575.75M66.90,572.90L71.30,572.90M511.00,572.90L506.60,572.90M66.90,554.15L69.40,554.15M511.00,554.15L508.50,554.15M66.90,543.18L69.40,543.18M511.00,543.18L508.50,543.18M66.90,535.39L69.40,535.39M511.00,535.39L508.50,535.39M66.90,529.35L69.40,529.35M511.00,529.35L508.50,529.35M66.90,524.42L69.40,524.42M511.00,524.42L508.50,524.42M66.90,520.25L69.40,520.25M511.00,520.25L508.50,520.25M66.90,516.64L69.40,516.64M511.00,516.64L508.50,516.64M66.90,513.45L69.40,513.45M511.00,513.45L508.50,513.45M66.90,510.60L71.30,510.60M511.00,510.60L506.60,510.60M66.90,491.85L69.40,491.85M511.00,491.85L508.50,491.85M66.90,480.88L69.40,480.88M511.00,480.88L508.50,480.88M66.90,473.09L69.40,473.09M511.00,473.09L508.50,473.09M66.90,467.05L69.40,467.05M511.00,467.05L508.50,467.05M66.90,462.12L69.40,462.12M511.00,462.12L508.50,462.12M66.90,457.95L69.40,457.95M511.00,457.95L508.50,457.95M66.90,454.34L69.40,454.34M511.00,454.34L508.50,454.34M66.90,451.15L69.40,451.15M511.00,451.15L508.50,451.15M66.90,448.30L71.30,448.30M511.00,448.30L506.60,448.30M66.90,429.55L69.40,429.55M511.00,429.55L508.50,429.55M66.90,418.58L69.40,418.58M511.00,418.58L508.50,418.58M66.90,410.79L69.40,410.79M511.00,410.79L508.50,410.79M66.90,404.75L69.40,404.75M511.00,404.75L508.50,404.75M66.90,399.82L69.40,399.82M511.00,399.82L508.50,399.82M66.90,395.65L69.40,395.65M511.00,395.65L508.50,395.65M66.90,392.04L69.40,392.04M511.00,392.04L508.50,392.04M66.90,388.85L69.40,388.85M511.00,388.85L508.50,388.85M66.90,386.00L71.30,386.00M511.00,386.00L506.60,386.00M66.90,367.25L69.40,367.25M511.00,367.25L508.50,367.25M66.90,356.28L69.40,356.28M511.00,356.28L508.50,356.28M66.90,348.49L69.40,348.49M511.00,348.49L508.50,348.49M66.90,342.45L69.40,342.45M511.00,342.45L508.50,342.45M66.90,337.52L69.40,337.52M511.00,337.52L508.50,337.52M66.90,333.35L69.40,333.35M511.00,333.35L508.50,333.35M66.90,329.74L69.40,329.74M511.00,329.74L508.50,329.74M66.90,326.55L69.40,326.55M511.00,326.55L508.50,326.55M66.90,323.70L71.30,323.70M511.00,323.70L506.60,323.70M66.90,304.95L69.40,304.95M511.00,304.95L508.50,304.95"/>
</g>
<g font-family="DejaVu Sans, sans-serif" font-size="16" fill="#111" stroke="#111" stroke-width="0.3">
<text x="72.75" y="652.1" text-anchor="middle">0</text><text x="144.93" y="652.1" text-anchor="middle">25</text><text x="217.10" y="652.1" text-anchor="middle">50</text><text x="289.27" y="652.1" text-anchor="middle">75</text><text x="361.45" y="652.1" text-anchor="middle">100</text><text x="433.62" y="652.1" text-anchor="middle">125</text><text x="505.80" y="652.1" text-anchor="middle">150</text>
<text x="44.8" y="641.20" text-anchor="end">10</text><text x="45.8" y="635.10" font-size="11.2">&#8722;1</text><text x="55.15" y="578.90" text-anchor="end">10</text><text x="54.9" y="572.80" font-size="11.2">0</text><text x="55.15" y="516.60" text-anchor="end">10</text><text x="54.9" y="510.50" font-size="11.2">1</text><text x="55.15" y="454.30" text-anchor="end">10</text><text x="54.9" y="448.20" font-size="11.2">2</text><text x="55.15" y="392.00" text-anchor="end">10</text><text x="54.9" y="385.90" font-size="11.2">3</text><text x="55.15" y="329.70" text-anchor="end">10</text><text x="54.9" y="323.60" font-size="11.2">4</text>
</g>
<g font-family="DejaVu Sans, sans-serif" font-size="17.35" fill="#111" stroke="#111" stroke-width="0.3">
<path d="M264.3,326.80H302.6" stroke="#1f77b4" stroke-width="3.3"/><text x="315.2" y="333.80" font-style="italic">&#964;</text><text x="325.6" y="336.70" font-size="12.15">mem</text><text x="363.0" y="333.80">= 0.1&#177;0.02 ms</text><path d="M264.3,352.60H302.6" stroke="#ff7f0e" stroke-width="3.3"/><text x="315.2" y="359.60" font-style="italic">&#964;</text><text x="325.6" y="362.50" font-size="12.15">mem</text><text x="363.0" y="359.60">= 0.2&#177;0.02 ms</text><path d="M264.3,378.40H302.6" stroke="#2ca02c" stroke-width="3.3"/><text x="315.2" y="385.40" font-style="italic">&#964;</text><text x="325.6" y="388.30" font-size="12.15">mem</text><text x="363.0" y="385.40">= 0.4&#177;0.02 ms</text><path d="M264.3,404.20H302.6" stroke="#d62728" stroke-width="3.3"/><text x="315.2" y="411.20" font-style="italic">&#964;</text><text x="325.6" y="414.10" font-size="12.15">mem</text><text x="363.0" y="411.20">= 0.6&#177;0.02 ms</text><path d="M264.3,430.00H302.6" stroke="#9467bd" stroke-width="3.3"/><text x="315.2" y="437.00" font-style="italic">&#964;</text><text x="325.6" y="439.90" font-size="12.15">mem</text><text x="363.0" y="437.00">= 0.8&#177;0.02 ms</text><path d="M265.3,455.80H302.0" stroke="#000" stroke-width="3.0" stroke-dasharray="9.0 4.8"/><text x="315.0" y="461.40">model,</text><text x="380.2" y="461.40" font-style="italic">&#964;</text><text x="390.8" y="464.30" font-size="12.15">mem</text><text x="425.9" y="461.40">=</text><text x="443.9" y="461.40">&#8734;</text>
</g>
<text x="289.0" y="675.0" text-anchor="middle" font-family="DejaVu Sans, sans-serif" font-size="18.6" fill="#111" stroke="#111" stroke-width="0.3">Distance, km</text>
<text transform="translate(16.1,470.0) rotate(-90)" text-anchor="middle" font-family="DejaVu Sans, sans-serif" font-size="18.7" fill="#111" stroke="#111" stroke-width="0.3">Entanglement gen. rate, 1/sec</text>
</svg>
</body></html>
